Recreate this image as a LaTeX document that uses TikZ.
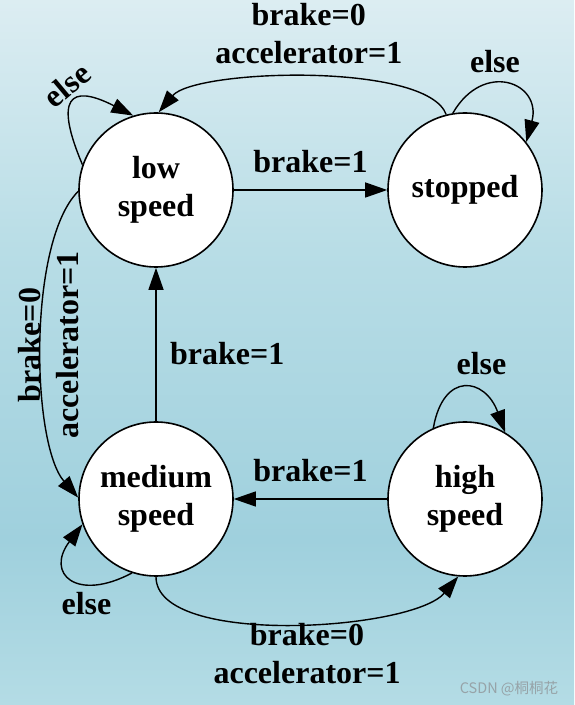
\documentclass[tikz,border=0pt]{standalone}
\usepackage{fontspec}
\setmainfont{Liberation Serif}
\newfontfamily\cjk{Noto Sans CJK SC}
\usetikzlibrary{arrows.meta}

\definecolor{bgtop}{HTML}{DCEDF2}
\definecolor{bgmid}{HTML}{B8DDE6}
\definecolor{bgdeep}{HTML}{9FD0DD}
\definecolor{bgbot}{HTML}{B4DCE5}
\definecolor{markgray}{HTML}{97A3A8}
\pgfdeclareverticalshading{skyfade}{100bp}{color(0bp)=(bgbot); color(25bp)=(bgbot);
  color(36.7bp)=(bgdeep); color(57.3bp)=(bgmid); color(75bp)=(bgtop); color(100bp)=(bgtop)}

\tikzset{
  state/.style={circle,draw,fill=white,line width=1.6pt,minimum size=154pt,
    inner sep=0pt,align=center},
  trans/.style={-{Triangle[length=22pt,width=15pt]},line width=1.4pt},
}

\begin{document}
\begin{tikzpicture}[x=1pt,y=1pt,font={\fontsize{32}{38}\selectfont\bfseries}]
  \shade[shading=skyfade] (0,0) rectangle (574,705);
  \useasboundingbox (0,0) rectangle (574,705);

  \node[state] (low) at (156,515) {low\\speed};
  \node[state] (stopped) at (465,515) {stopped};
  \node[state] (medium) at (156,206) {medium\\speed};
  \node[state] (high) at (465,206) {high\\speed};

  \draw[trans] (low) -- (stopped) node[midway,above=13pt] (l1) {brake=1};
  \draw[trans] (stopped.104) to[out=110,in=50,looseness=0.5]
    node[midway,above=10pt,align=center] (l2) {brake=0\\accelerator=1} (low.88);
  \draw[trans] (low.161) to[out=113,in=153,looseness=2.6] (low.107);
  \node[rotate=40] (l3) at (67,620) {else};
  \draw[trans] (stopped.99) to[out=60,in=75,looseness=2] (stopped.38);
  \node (l4) at (495,643) {else};

  \draw[trans] (low.181) to[out=225,in=131,looseness=0.6] (medium.179);
  \node[rotate=90,align=center] (l5) at (48.5,360) {brake=0\\accelerator=1};
  \draw[trans] (medium) -- (low) node[pos=0.44,right=10pt] (l6) {brake=1};

  \draw[trans] (high) -- (medium) node[midway,above=13pt] (l7) {brake=1};
  \draw[trans] (high.114) to[out=80,in=110,looseness=2.07] (high.59);
  \node (l8) at (481.5,341) {else};
  \draw[trans] (medium.252) to[out=208,in=233,looseness=2.3] (medium.199);
  \node (l9) at (86.5,101) {else};
  \draw[trans] (medium.270) to[out=270,in=230,looseness=0.6]
    node[midway,below=-4pt,xshift=17pt,align=center] (l10) {brake=0\\accelerator=1} (high.265);

  \node[text=markgray,font={\cjk\fontsize{14.5}{16}\selectfont}] (mark) at (509,16) {CSDN @桐桐花};
\end{tikzpicture}
\end{document}
